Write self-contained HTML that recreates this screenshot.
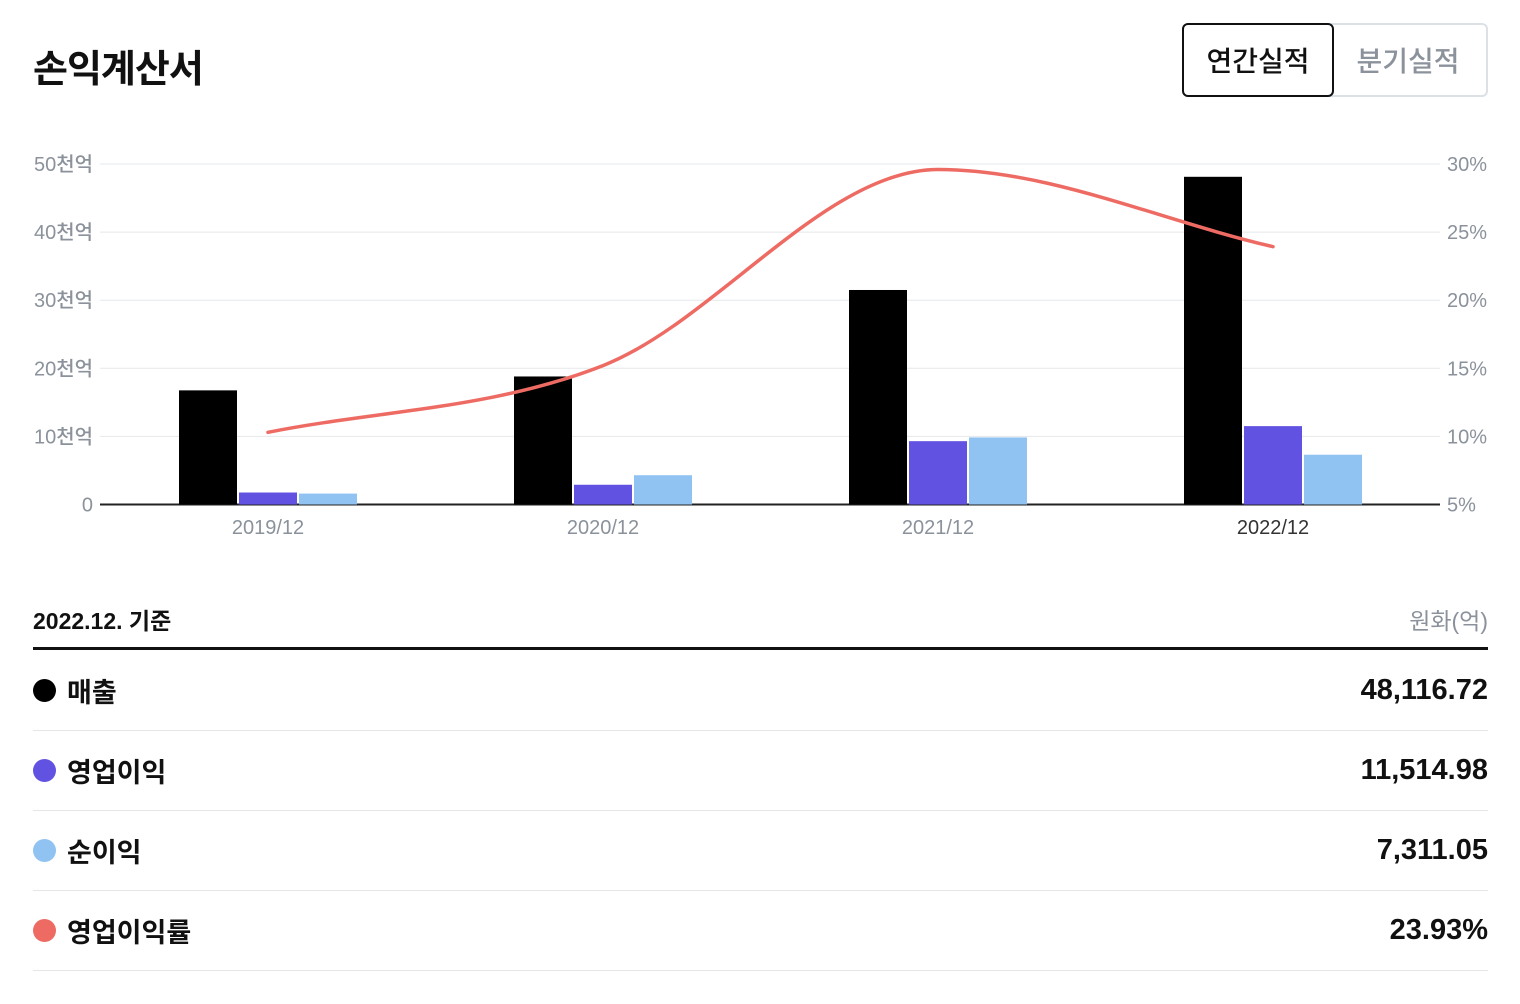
<!DOCTYPE html>
<html><head><meta charset="utf-8">
<style>
html,body{margin:0;padding:0;background:#fff;width:1520px;height:1004px;overflow:hidden;font-family:"Liberation Sans","Noto Sans CJK KR",sans-serif;}
.abs{position:absolute;}
.title{left:33px;top:38px;font-size:38px;font-weight:700;color:#111;letter-spacing:-1px;}
.btn{top:23px;height:74px;box-sizing:border-box;display:flex;align-items:center;justify-content:center;font-size:28px;font-weight:500;}
.row{left:33px;width:1455px;height:80px;border-bottom:1px solid #e6e6e6;box-sizing:border-box;display:flex;align-items:center;}
.dot{width:23px;height:23px;border-radius:50%;margin-right:11px;}
.lbl{font-size:27px;font-weight:700;color:#111;flex:1;}
.val{font-size:29px;font-weight:700;color:#111;}
</style></head><body>
<div class="abs title">손익계산서</div>
<div class="abs btn" style="left:1330px;width:158px;border:2px solid #dde0e4;border-left:none;border-radius:0 6px 6px 0;color:#8b929b;">분기실적</div>
<div class="abs btn" style="left:1182px;width:152px;border:2px solid #111;border-radius:6px;color:#111;background:#fff;">연간실적</div>

<svg class="abs" style="left:0;top:0" width="1520" height="560">
<g id="grid"></g><g id="bars"></g><g id="line"></g><g id="labels"></g>
</svg>

<div class="abs" style="left:33px;top:602px;font-size:23px;font-weight:700;color:#111;">2022.12. 기준</div>
<div class="abs" style="right:32px;top:602px;font-size:23px;color:#8b929b;">원화(억)</div>
<div class="abs" style="left:33px;top:647px;width:1455px;height:3px;background:#111;"></div>
<div class="abs row" style="top:651px"><div class="dot" style="background:#000"></div><div class="lbl">매출</div><div class="val">48,116.72</div></div>
<div class="abs row" style="top:731px"><div class="dot" style="background:#6252e2"></div><div class="lbl">영업이익</div><div class="val">11,514.98</div></div>
<div class="abs row" style="top:811px"><div class="dot" style="background:#90c2f2"></div><div class="lbl">순이익</div><div class="val">7,311.05</div></div>
<div class="abs row" style="top:891px"><div class="dot" style="background:#ee6b64"></div><div class="lbl">영업이익률</div><div class="val">23.93%</div></div>

<script>
const categories=["2019/12","2020/12","2021/12","2022/12"];
const revenue=[16.76,18.8,31.5,48.12];
const operatingProfit=[1.76,2.9,9.3,11.51];
const netIncome=[1.6,4.3,9.85,7.31];
const operatingMargin=[10.3,15.2,29.6,23.93];
const leftTicks=["0","10천억","20천억","30천억","40천억","50천억"];
const rightTicks=["5%","10%","15%","20%","25%","30%"];

const NS="http://www.w3.org/2000/svg";
const y0=504.5,y1=164,xL=100,xR=1440;
const yL=v=>y0-(v/50)*(y0-y1);
const yR=v=>y0-((v-5)/25)*(y0-y1);
const xC=i=>268+i*335;
function mk(tag,attrs,parent,text){const e=document.createElementNS(NS,tag);for(const k in attrs)e.setAttribute(k,attrs[k]);if(text!=null)e.textContent=text;document.getElementById(parent).appendChild(e);return e;}
leftTicks.forEach((t,i)=>{
  const y=yL(i*10);
  if(i>0){const g=mk("line",{x1:xL,x2:xR,y1:y,y2:y,stroke:"#e5e7ea","stroke-width":1},"grid");
  
  }
  const l=mk("text",{x:93,y:y+7,"text-anchor":"end","font-size":20,fill:"#8b929b","font-weight":500},"labels",t);
  
  
});
rightTicks.forEach((t,i)=>{
  const l=mk("text",{x:1447,y:yR(5+i*5)+7,"font-size":20,fill:"#8b929b","font-weight":500},"labels",t);
  
  
});
const series=[[revenue,"#000",-89],[operatingProfit,"#6252e2",-29],[netIncome,"#90c2f2",31]];
categories.forEach((c,i)=>{
  series.forEach(([arr,col,off])=>{
    const r=mk("rect",{x:xC(i)+off,y:yL(arr[i]),width:58,height:y0-yL(arr[i]),fill:col},"bars");
    
    
  });
  const l=mk("text",{x:xC(i),y:534,"text-anchor":"middle","font-size":20,fill:i==3?"#333":"#8b929b","font-weight":500},"labels",c);
  
  
});
const ax=mk("line",{x1:xL,x2:xR,y1:y0,y2:y0,stroke:"#222","stroke-width":2},"grid");


// monotone cubic
const px=categories.map((c,i)=>xC(i)),py=operatingMargin.map(yR);
const n=px.length,d=[],m=[];
for(let i=0;i<n-1;i++)d.push((py[i+1]-py[i])/(px[i+1]-px[i]));
for(let i=0;i<n;i++){
  if(i==0)m.push(d[0]);else if(i==n-1)m.push(d[n-2]);
  else m.push(d[i-1]*d[i]<=0?0:(d[i-1]+d[i])/2);
}
for(let i=0;i<n-1;i++){
  if(d[i]===0){m[i]=m[i+1]=0;continue;}
  const a=m[i]/d[i],b=m[i+1]/d[i],s=a*a+b*b;
  if(s>9){const t=3/Math.sqrt(s);m[i]=t*a*d[i];m[i+1]=t*b*d[i];}
}
let p="M"+px[0]+","+py[0];
for(let i=0;i<n-1;i++){const h=(px[i+1]-px[i])/3;p+=` C${px[i]+h},${py[i]+m[i]*h} ${px[i+1]-h},${py[i+1]-m[i+1]*h} ${px[i+1]},${py[i+1]}`;}
const ln=mk("path",{d:p,fill:"none",stroke:"#ee6b64","stroke-width":3.5,"stroke-linecap":"round"},"line");


</script>
</body></html>
